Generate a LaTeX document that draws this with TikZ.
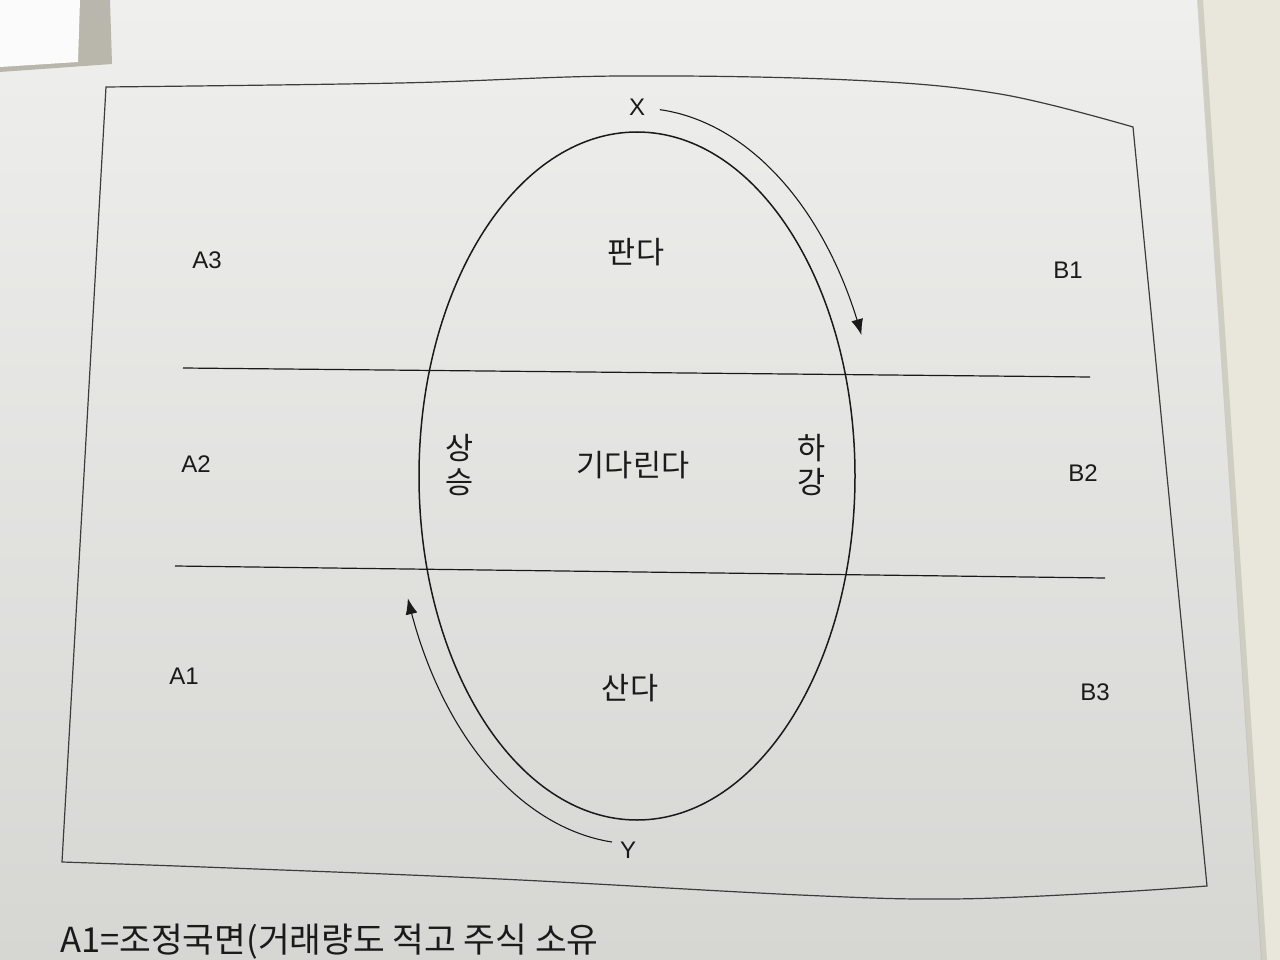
\documentclass[tikz,border=0pt]{standalone}
\usepackage{fontspec}
\setmainfont{Liberation Sans}
\newfontfamily\kr{Noto Sans CJK KR}
\usetikzlibrary{shapes.geometric,arrows.meta}
\definecolor{inkc}{HTML}{1A1A1A}
\definecolor{paperA}{HTML}{EFEFED}
\definecolor{paperB}{HTML}{D6D6D3}
\definecolor{cream}{HTML}{E9E7DB}
\definecolor{shadowc}{HTML}{A39F92}
\begin{document}
\begin{tikzpicture}[x=1pt,y=-1pt,
  lab/.style={font=\fontsize{24}{28}\selectfont, text=inkc, inner sep=0pt},
  krlab/.style={font=\kr\fontsize{30.5}{34}\selectfont, text=inkc, inner sep=0pt, align=center},
  thinline/.style={draw=inkc, line width=1.2pt},
  flow/.style={draw=inkc, line width=1.1pt, -{Latex[length=16pt,width=12pt]}},
  frameline/.style={draw=inkc!85, line width=1.2pt}]
% background (photo of page)
\useasboundingbox (0,0) rectangle (1280,960);
\shade[shading=axis, shading angle=150, top color=paperA, bottom color=paperB] (0,0) rectangle (1280,960);
\fill[cream] (1198,0) -- (1280,0) -- (1280,960) -- (1262,960) -- cycle;
\draw[shadowc, line width=6pt, opacity=0.35] (1200,0) -- (1264,960);
\fill[shadowc, opacity=0.7] (0,0) -- (110,0) -- (112,64) -- (0,72) -- cycle;
\fill[white!97!gray] (0,0) -- (80,0) -- (78,62) -- (0,67) -- cycle;
% frame
\draw[frameline] plot[smooth, tension=0.6] coordinates {(106,87) (400,83) (620,76) (850,80) (1000,94) (1133,127)}
  -- (1207,886)
  -- plot[smooth, tension=0.6] coordinates {(1207,886) (1100,893) (950,899) (800,895) (500,879) (230,868) (62,862)}
  -- cycle;
% horizontal lines
\coordinate (u1) at (183,368); \coordinate (u2) at (1090,377);
\coordinate (d1) at (175,566); \coordinate (d2) at (1105,578);
\draw[thinline] (u1) -- (u2);
\draw[thinline] (d1) -- (d2);
% egg
\node[draw=inkc, line width=1.5pt, ellipse, minimum width=436pt, minimum height=688pt, inner sep=0pt] (egg) at (637,476) {};
% labels
\node[lab] (a3) at (207,260) {A3};
\node[lab] (a2) at (196,464) {A2};
\node[lab] (a1) at (184,676) {A1};
\node[lab] (b1) at (1068,270) {B1};
\node[lab] (b2) at (1083,473) {B2};
\node[lab] (b3) at (1095,692) {B3};
\node[lab] (x) at (637,107) {X};
\node[lab] (y) at (628,850) {Y};
\node[krlab] (sell) at (636,252) {판다};
\node[krlab] (wait) at (633,465) {기다린다};
\node[krlab] (buy) at (630,688) {산다};
\node[krlab] (up) at (460,465) {상\\승};
\node[krlab] (down) at (812,465) {하\\강};
% flow arcs
\draw[flow] (x.east) ++(6,0) plot[smooth, domain=-84.6:-22.5, samples=40] ({637+243*cos(\x)},{476+368*sin(\x)});
\draw[flow] (y.west) ++(-6,0) plot[smooth, domain=95.9:160.6, samples=40] ({637+243*cos(\x)},{476+368*sin(\x)});
% caption
\node[font=\kr\fontsize{34.5}{38}\selectfont, text=inkc, inner sep=0pt, anchor=base west] (cap) at (60,952) {A1=조정국면(거래량도 적고 주식 소유};
\end{tikzpicture}
\end{document}
